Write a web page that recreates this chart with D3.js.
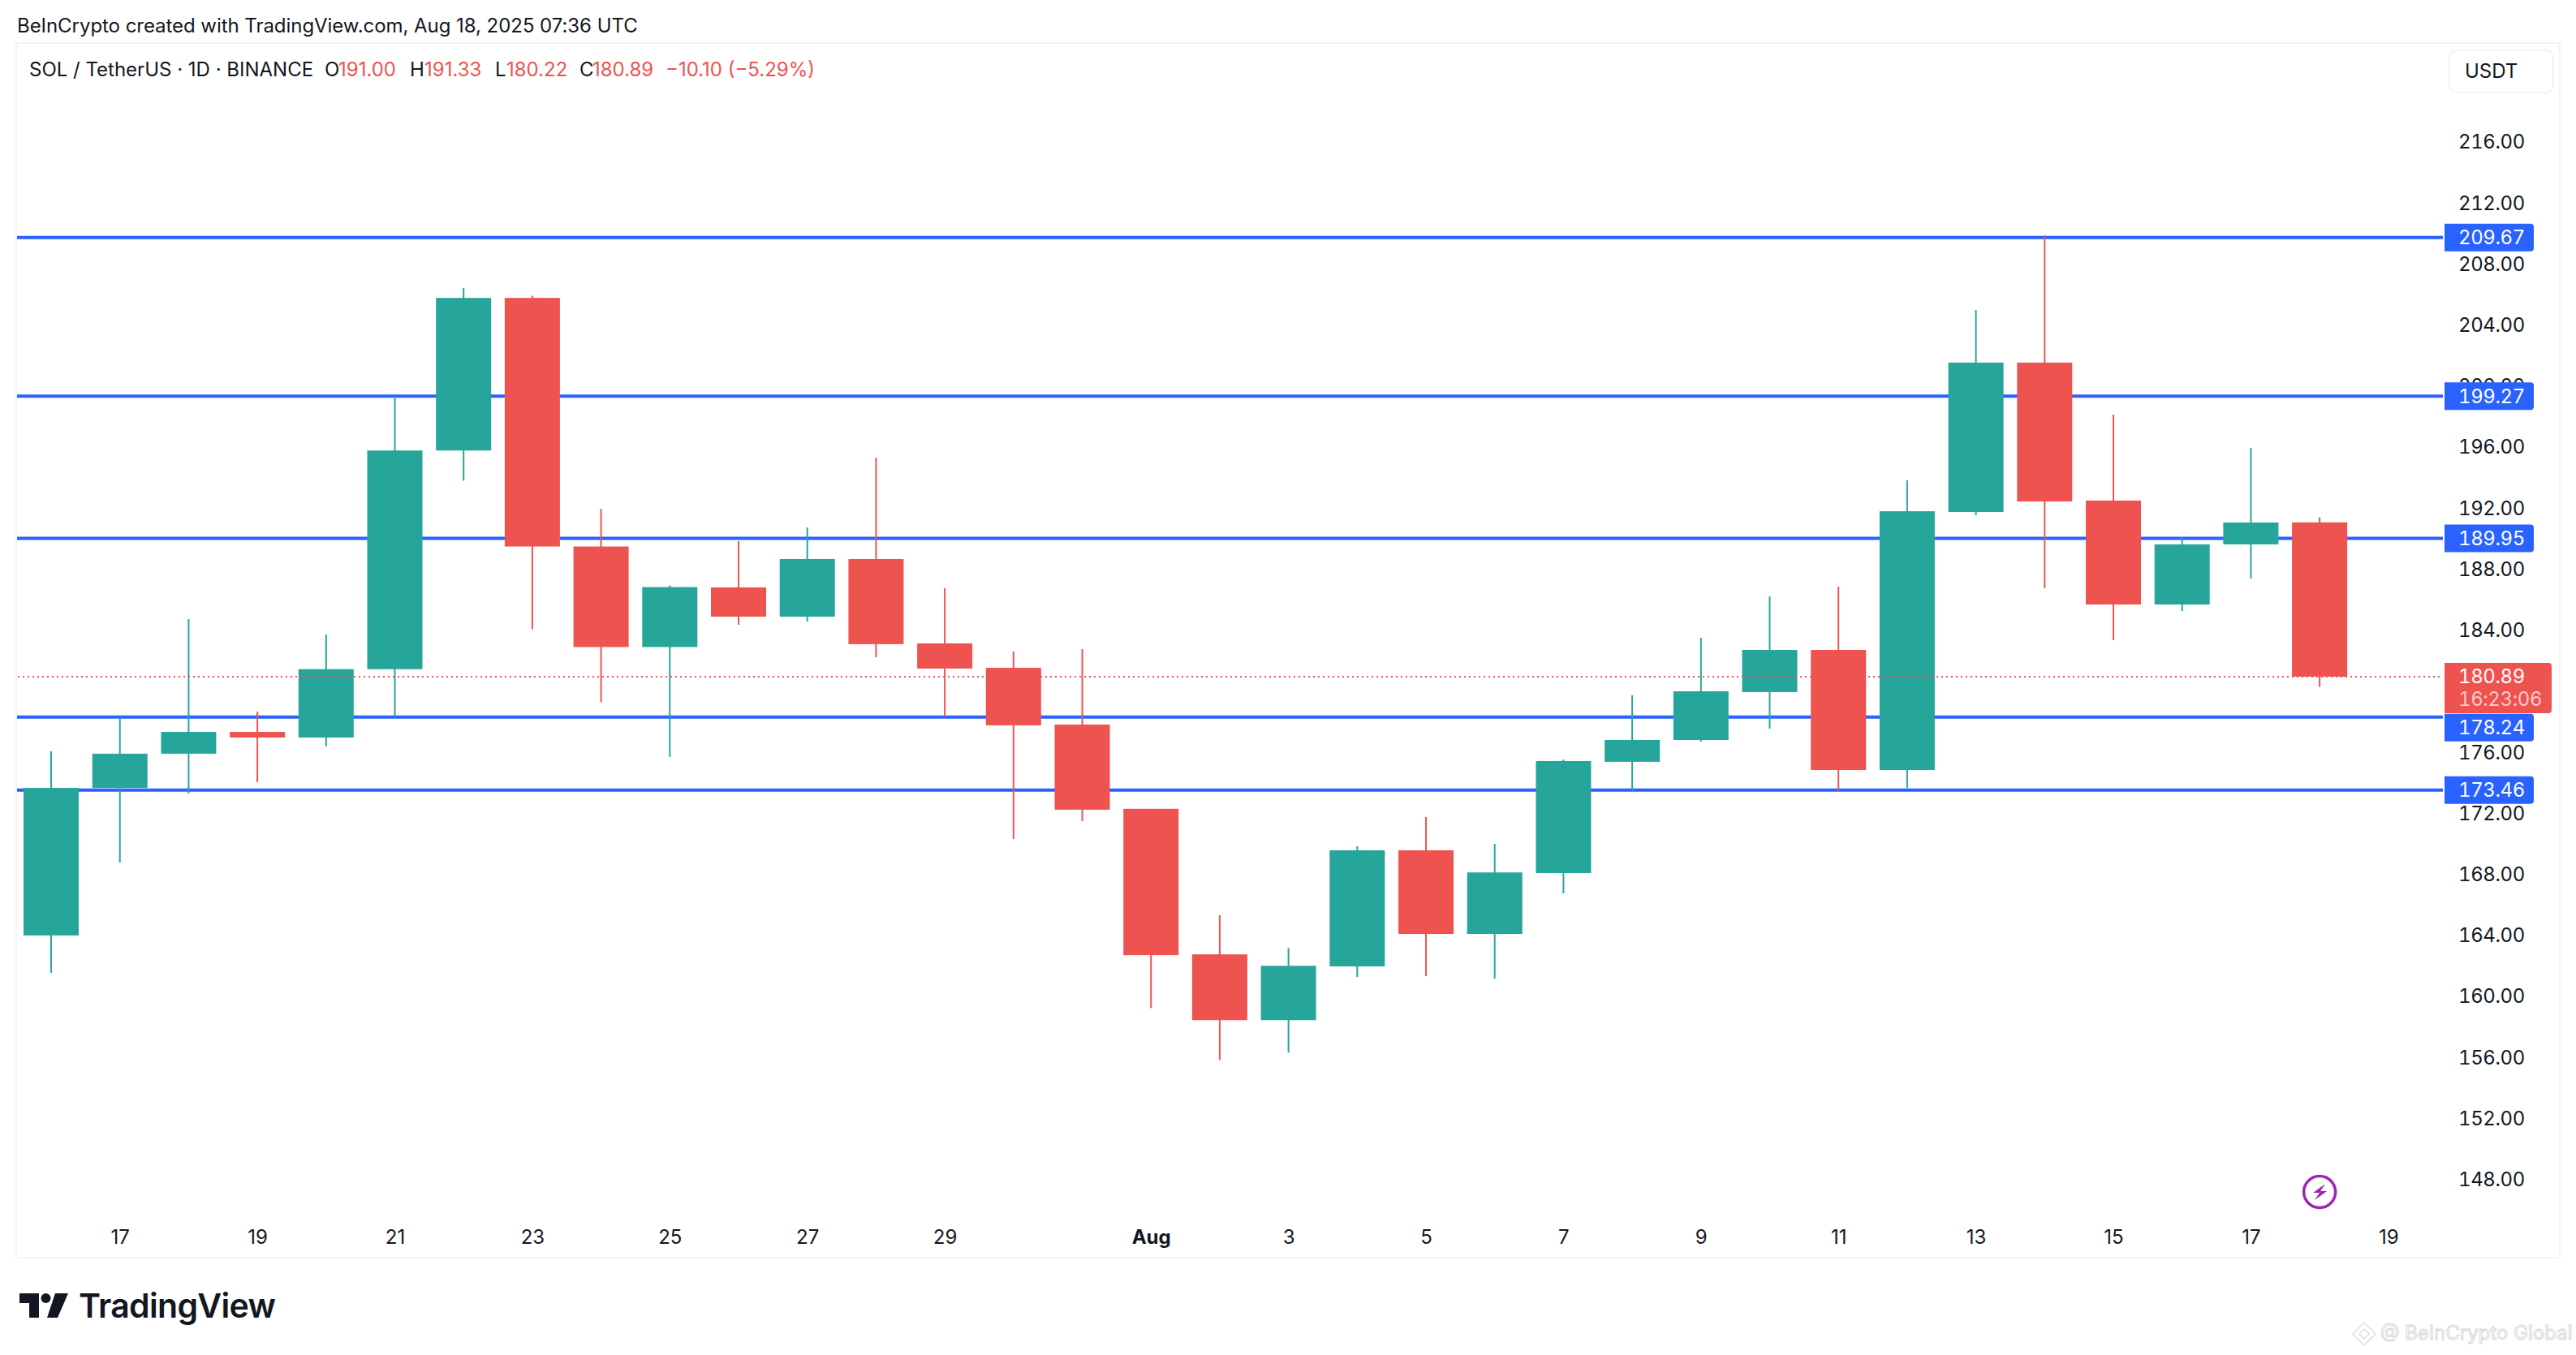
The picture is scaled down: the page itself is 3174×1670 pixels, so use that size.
<!DOCTYPE html>
<html>
<head>
<meta charset="utf-8">
<title>SOL / TetherUS 1D</title>
<script src="https://cdn.jsdelivr.net/npm/d3@7"></script>
<style>
    html, body { margin: 0; padding: 0; background: #fff; }
    svg { display: block; }
    text { font-family: Inter, "Noto Sans", sans-serif; fill: #131722; }
    .price { font-variant-numeric: tabular-nums; letter-spacing: -0.4px; }
</style>
</head>
<body>
<svg id="chart" width="3174" height="1670"></svg>
<script>
// Jul 16 -> Aug 18 daily candles, last slot (Aug 19) is empty
const days = ["Jul 16", "Jul 17", "Jul 18", "Jul 19", "Jul 20", "Jul 21", "Jul 22", "Jul 23", "Jul 24", "Jul 25", "Jul 26", "Jul 27",
    "Jul 28", "Jul 29", "Jul 30", "Jul 31", "Aug 1", "Aug 2", "Aug 3", "Aug 4", "Aug 5", "Aug 6", "Aug 7", "Aug 8", "Aug 9", "Aug 10",
    "Aug 11", "Aug 12", "Aug 13", "Aug 14", "Aug 15", "Aug 16", "Aug 17", "Aug 18", "Aug 19"];
const opens = [163.93, 173.60, 175.84, 177.27, 176.90, 181.38, 195.71, 205.71, 189.42, 182.83, 186.74, 184.82, 188.60, 183.07, 181.47, 177.75,
    172.23, 162.69, 158.38, 161.90, 169.51, 164.03, 168.02, 175.31, 176.74, 179.88, 182.64, 174.77, 191.68, 201.47, 192.43, 185.62, 189.56, 191.00];
const highs = [176.00, 178.18, 184.66, 178.60, 183.65, 199.25, 206.36, 205.85, 191.88, 186.87, 189.77, 190.67, 195.24, 186.68, 182.54, 182.70,
    172.23, 165.26, 163.11, 169.77, 171.69, 169.93, 175.46, 179.67, 183.44, 186.15, 186.79, 193.76, 204.92, 209.81, 198.06, 190.03, 195.88, 191.33];
const lows = [161.48, 168.71, 173.23, 173.98, 176.32, 178.26, 193.73, 183.99, 179.21, 175.63, 184.29, 184.50, 182.16, 178.28, 170.25, 171.42,
    159.17, 155.78, 156.25, 161.21, 161.26, 161.10, 166.69, 173.39, 176.63, 177.48, 173.39, 173.60, 191.47, 186.68, 183.28, 185.19, 187.32, 180.22];
const closes = [173.60, 175.84, 177.27, 176.90, 181.38, 195.71, 205.71, 189.42, 182.83, 186.76, 184.82, 188.60, 183.02, 181.42, 177.70, 172.17,
    162.64, 158.38, 161.94, 169.51, 164.03, 168.06, 175.36, 176.74, 179.93, 182.64, 174.77, 191.73, 201.47, 192.37, 185.62, 189.56, 190.99, 180.89];

const levels = [209.67, 199.27, 189.95, 178.24, 173.46];
// 180.00 sits under the last price label, so it is not listed
const priceTicks = [216, 212, 208, 204, 200, 196, 192, 188, 184, 176, 172, 168, 164, 160, 156, 152, 148];
const shownDays = ["Jul 17", "Jul 19", "Jul 21", "Jul 23", "Jul 25", "Jul 27", "Jul 29", "Aug 1", "Aug 3", "Aug 5", "Aug 7", "Aug 9",
    "Aug 11", "Aug 13", "Aug 15", "Aug 17", "Aug 19"];
const lastPrice = 180.89;
const countdown = "16:23:06";

const upColor = "#26a69a";
const downColor = "#ef5350";
const levelColor = "#2962ff";
const borderColor = "#f3f3f4";

const svg = d3.select("#chart");

const x = d3.scalePoint().domain(days).range([63, 2942.8]);
const y = d3.scaleLinear().domain([146, 222.4]).range([1490.1, 53.3]);

const paneLeft = 21, paneRight = 3153, paneTop = 54, paneBottom = 1549, axisLeft = 3012, plotRight = 3010;

// header
svg.append("text").attr("x", 21).attr("y", 32).attr("dy", "0.35em")
    .attr("font-size", 24).style("letter-spacing", "-0.05px")
    .text("BeInCrypto created with TradingView.com, Aug 18, 2025 07:36 UTC");

// pane border
svg.append("rect")
    .attr("x", paneLeft - 1).attr("y", paneTop - 1)
    .attr("width", paneRight - paneLeft + 2).attr("height", paneBottom - paneTop + 2)
    .attr("fill", "none").attr("stroke", borderColor).attr("stroke-width", 2);

// legend row
const legend = [
    {t: "SOL / TetherUS · 1D · BINANCE", x: 36, c: "#131722"},
    {t: "O", x: 400, c: "#131722"}, {t: "191.00", x: 417, c: downColor},
    {t: "H", x: 505, c: "#131722"}, {t: "191.33", x: 523, c: downColor},
    {t: "L", x: 610, c: "#131722"}, {t: "180.22", x: 624, c: downColor},
    {t: "C", x: 714, c: "#131722"}, {t: "180.89", x: 730, c: downColor},
    {t: "−10.10 (−5.29%)", x: 820, c: downColor}
];
svg.append("g").selectAll("text").data(legend).enter().append("text")
    .attr("x", d => d.x).attr("y", 86).attr("dy", "0.35em")
    .attr("font-size", 24)
    .style("fill", d => d.c)
    .text(d => d.t);

// price axis, level labels get painted over it
const yAxis = svg.append("g")
    .attr("transform", "translate(3029,1.5)")
    .call(d3.axisRight(y).tickValues(priceTicks).tickSize(0).tickPadding(0).tickFormat(d3.format(".2f")));
yAxis.select(".domain").remove();
yAxis.selectAll("text").attr("class", "price").attr("font-size", 24).attr("font-family", "Inter");

// time axis
const xAxis = svg.append("g")
    .attr("transform", "translate(0,1524.5)")
    .call(d3.axisBottom(x).tickValues(shownDays).tickSize(0).tickPadding(0)
        .tickFormat(d => d === "Aug 1" ? "Aug" : d.split(" ")[1]));
xAxis.select(".domain").remove();
xAxis.selectAll("text")
    .attr("dy", "0.35em").attr("y", 0)
    .attr("font-size", 24).attr("font-family", "Inter")
    .attr("font-weight", d => d === "Aug 1" ? 700 : 400);

// horizontal levels go behind the candles
svg.append("g").selectAll("line").data(levels).enter().append("line")
    .attr("x1", paneLeft).attr("x2", plotRight)
    .attr("y1", d => y(d)).attr("y2", d => y(d))
    .attr("stroke", levelColor).attr("stroke-width", 4);

// candles
const candles = svg.append("g").selectAll("g").data(opens).enter().append("g")
    .attr("fill", (d, i) => closes[i] >= opens[i] ? upColor : downColor);

candles.append("rect")
    .attr("x", (d, i) => x(days[i]) - 1)
    .attr("width", 2)
    .attr("y", (d, i) => y(highs[i]))
    .attr("height", (d, i) => y(lows[i]) - y(highs[i]));

candles.append("rect")
    .attr("x", (d, i) => x(days[i]) - 34)
    .attr("width", 68)
    .attr("y", (d, i) => y(Math.max(opens[i], closes[i])))
    .attr("height", (d, i) => Math.abs(y(opens[i]) - y(closes[i])));

// last price
svg.append("line")
    .attr("x1", paneLeft + 1).attr("x2", plotRight)
    .attr("y1", y(lastPrice)).attr("y2", y(lastPrice))
    .attr("stroke", downColor).attr("stroke-width", 2)
    .attr("stroke-dasharray", "2,4");

// rounded on the right side only
function labelPath(x0, x1, y0, y1, r) {
    return `M${x0},${y0}H${x1 - r}Q${x1},${y0} ${x1},${y0 + r}V${y1 - r}Q${x1},${y1} ${x1 - r},${y1}H${x0}Z`;
}

const levelLabels = svg.append("g").selectAll("g").data(levels).enter().append("g")
    // 178.24 is pushed down by the last price label
    .attr("transform", d => `translate(0,${y(d) + (d === 178.24 ? 13 : 0)})`);
levelLabels.append("path")
    .attr("d", labelPath(axisLeft, 3122, -17, 17, 4))
    .attr("fill", levelColor);
levelLabels.append("text")
    .attr("class", "price")
    .attr("x", 3029).attr("dy", "0.35em")
    .attr("font-size", 24)
    .style("fill", "#fff")
    .text(d => d3.format(".2f")(d));

const lastLabel = svg.append("g").attr("transform", `translate(0,${y(lastPrice)})`);
lastLabel.append("path")
    .attr("d", labelPath(axisLeft, 3144, -17, 45, 4))
    .attr("fill", downColor);
lastLabel.append("text")
    .attr("class", "price")
    .attr("x", 3029).attr("dy", "0.35em")
    .attr("font-size", 24)
    .style("fill", "#fff")
    .text(d3.format(".2f")(lastPrice));
lastLabel.append("text")
    .attr("class", "price")
    .attr("x", 3029).attr("y", 28).attr("dy", "0.35em")
    .attr("font-size", 24)
    .style("fill", "#fff").attr("fill-opacity", 0.7)
    .text(countdown);

// currency button
svg.append("rect")
    .attr("x", 3018).attr("y", 62).attr("width", 128).attr("height", 52).attr("rx", 9)
    .attr("fill", "#fff").attr("stroke", borderColor).attr("stroke-width", 2);
svg.append("text").attr("x", 3037).attr("y", 88).attr("dy", "0.35em")
    .attr("font-size", 24).text("USDT");

// flash icon under the last candle
const flash = svg.append("g").attr("transform", `translate(${x("Aug 18")},1469)`);
flash.append("circle").attr("r", 19.5).attr("fill", "#fff")
    .attr("stroke", "#9c27b0").attr("stroke-width", 3.5);
flash.append("path").attr("d", "M7,-10L-8,1H0L-6,10L9,-1H1Z").attr("fill", "#9c27b0");

// TradingView logo
const logo = svg.append("g").attr("fill", "#131722");
logo.append("path").attr("d", "M24,1594H48V1624H36V1606H24Z");
logo.append("circle").attr("cx", 56.5).attr("cy", 1600).attr("r", 6);
logo.append("path").attr("d", "M68,1594H84L71,1624H58Z");
svg.append("text").attr("x", 97).attr("y", 1624)
    .attr("font-size", 41).attr("font-weight", 600).style("letter-spacing", "-0.7px")
    .text("TradingView");

// faint watermark
const mark = svg.append("g").attr("fill", "#fff").attr("stroke", "#e2dcdc").attr("stroke-width", 1.5);
mark.append("path").attr("d", "M2913,1630L2927,1644L2913,1658L2899,1644Z");
mark.append("path").attr("d", "M2913,1638L2919,1644L2913,1650L2907,1644Z");
svg.append("text").attr("x", 2933).attr("y", 1651)
    .attr("font-size", 24)
    .style("fill", "#fff").style("stroke", "#d9d3d3").style("stroke-width", 1)
    .text("@ BeInCrypto Global");
</script>
</body>
</html>
